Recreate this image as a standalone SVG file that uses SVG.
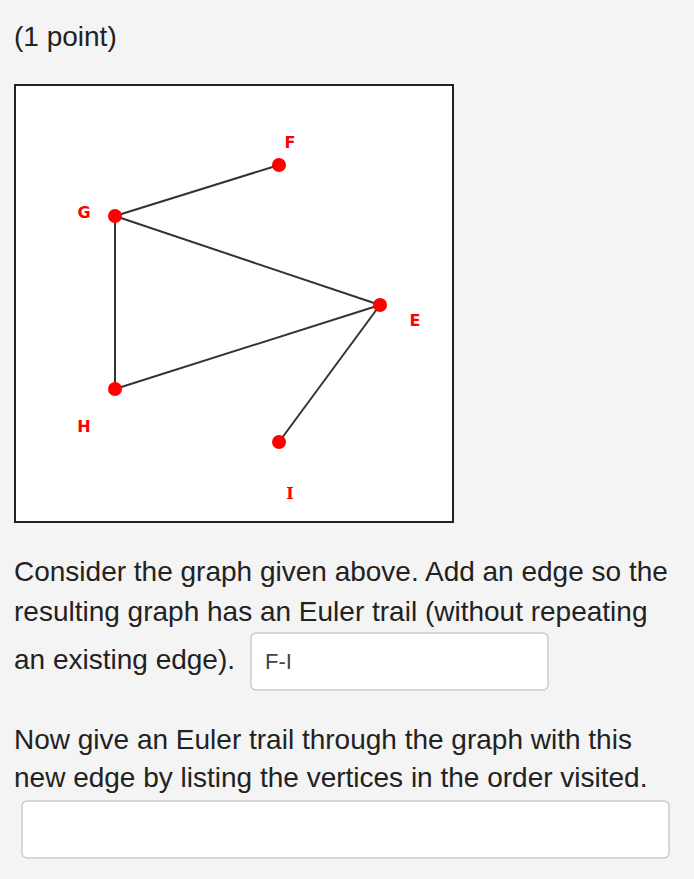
<svg xmlns="http://www.w3.org/2000/svg" width="694" height="879" viewBox="0 0 694 879">
<style>
.t{font-family:"Liberation Sans",Arial,sans-serif;font-size:28px;fill:#222}
.lbl{font-family:"DejaVu Sans",sans-serif;font-size:16px;font-weight:bold;fill:#f00;text-anchor:middle}
.e{stroke:#333;stroke-width:2}
.n{fill:#f00}
.box{fill:#fff;stroke:#ccc;stroke-width:1.5}
</style>
<rect width="694" height="879" fill="#f4f4f4"/>
<text class="t" x="14" y="46">(1 point)</text>
<rect x="15" y="85" width="438" height="437" fill="#fff" stroke="#222" stroke-width="2"/>
<g id="edges">
<line class="e" x1="115" y1="216" x2="279" y2="165"/>
<line class="e" x1="115" y1="216" x2="380" y2="305"/>
<line class="e" x1="115" y1="216" x2="115" y2="389"/>
<line class="e" x1="115" y1="389" x2="380" y2="305"/>
<line class="e" x1="380" y1="305" x2="279" y2="442"/>
</g>
<g id="F"><circle class="n" cx="279" cy="165" r="7"/><text class="lbl" x="290" y="148">F</text></g>
<g id="G"><circle class="n" cx="115" cy="216" r="7"/><text class="lbl" x="84" y="218">G</text></g>
<g id="E"><circle class="n" cx="380" cy="305" r="7"/><text class="lbl" x="415" y="326">E</text></g>
<g id="H"><circle class="n" cx="115" cy="389" r="7"/><text class="lbl" x="84" y="432">H</text></g>
<g id="I"><circle class="n" cx="279" cy="442" r="7"/><text class="lbl" x="290" y="499" style="font-family:'DejaVu Serif',serif">I</text></g>
<text class="t" x="14" y="581">Consider the graph given above. Add an edge so the</text>
<text class="t" x="14" y="621">resulting graph has an Euler trail (without repeating</text>
<text class="t" x="14" y="669">an existing edge).</text>
<rect class="box" x="251" y="633" width="297" height="57" rx="5"/>
<text class="t" x="265" y="669" style="font-size:22px;fill:#444">F-I</text>
<text class="t" x="14" y="749">Now give an Euler trail through the graph with this</text>
<text class="t" x="14" y="787">new edge by listing the vertices in the order visited.</text>
<rect class="box" x="22" y="801" width="647" height="57" rx="5"/>
</svg>
